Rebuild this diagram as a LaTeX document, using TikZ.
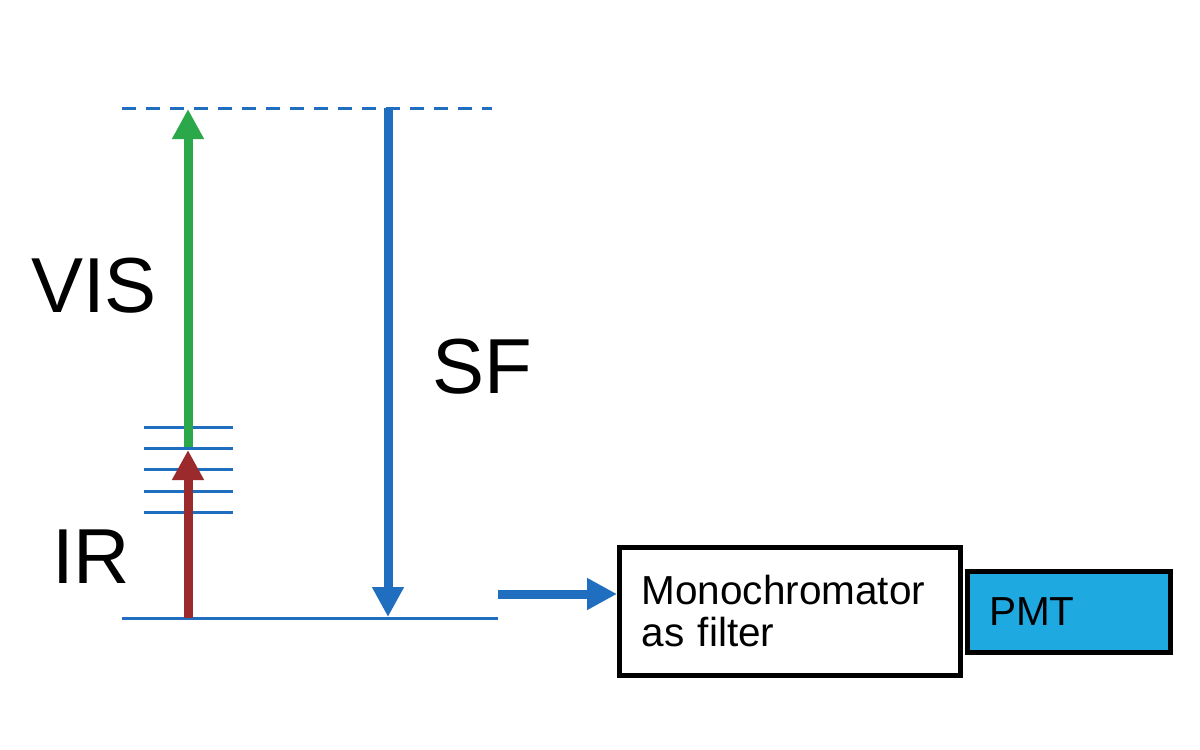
\documentclass[tikz,border=0pt]{standalone}
\usepackage{fontspec}
\setmainfont{Liberation Sans}
\usetikzlibrary{arrows.meta}
\definecolor{lvlblue}{HTML}{1F6EC0}
\definecolor{visgreen}{HTML}{2BA84A}
\definecolor{irred}{HTML}{9B2A2C}
\definecolor{pmtblue}{HTML}{1FA9E1}
\tikzset{
  level/.style={lvlblue, line width=3pt},
  virtual/.style={lvlblue, line width=3pt, dash pattern=on 14pt off 10pt},
  beam/.style={line width=9pt, -{Triangle[length=30pt,width=30pt]}},
  biglabel/.style={font=\fontsize{78}{82}\selectfont, anchor=base west, inner sep=0pt},
  boxstyle/.style={draw=black, line width=5pt, inner sep=0pt, align=left,
                   font=\fontsize{40.5}{42}\selectfont},
}
\begin{document}
\begin{tikzpicture}[x=1pt,y=-1pt]
\useasboundingbox (0,0) rectangle (1200,750);

% energy levels
\coordinate (t0) at (122,108); \coordinate (t1) at (492,108);
\coordinate (g0) at (122,618); \coordinate (g1) at (498,618);
\draw[virtual] (t0) -- (t1);
\draw[level] (g0) -- (g1);
\foreach \y [count=\i] in {427,448,469,491,512} {
  \coordinate (v\i a) at (144,\y); \coordinate (v\i b) at (233,\y);
  \draw[level] (v\i a) -- (v\i b);
}

% IR and VIS excitation
\coordinate (irs) at (188,618); \coordinate (ire) at (188,450);
\coordinate (viss) at (188,447); \coordinate (vise) at (188,109);
\draw[beam, visgreen] (viss) -- (vise);
\draw[beam, irred] (irs) -- (ire);

% sum frequency emission
\coordinate (sfs) at (388,108); \coordinate (sfe) at (388,617);
\draw[beam, lvlblue] (sfs) -- (sfe);

% detection
\node[boxstyle, fill=white, minimum width=341pt, minimum height=128pt,
      text width=297pt] (mono) at (790,611.5)
      {Monochromator\\as filter};
\node[boxstyle, fill=pmtblue, minimum width=203pt, minimum height=81pt,
      text width=160pt] (pmt) at (1069,612)
      {PMT};
\coordinate (out) at (498,594);
\draw[beam, lvlblue] (out) -- (out -| mono.west);

% labels
\node[biglabel] (vis) at (31,312) {VIS};
\node[biglabel] (sf) at (432,393) {SF};
\node[biglabel] (ir) at (52,583) {IR};
\end{tikzpicture}
\end{document}
